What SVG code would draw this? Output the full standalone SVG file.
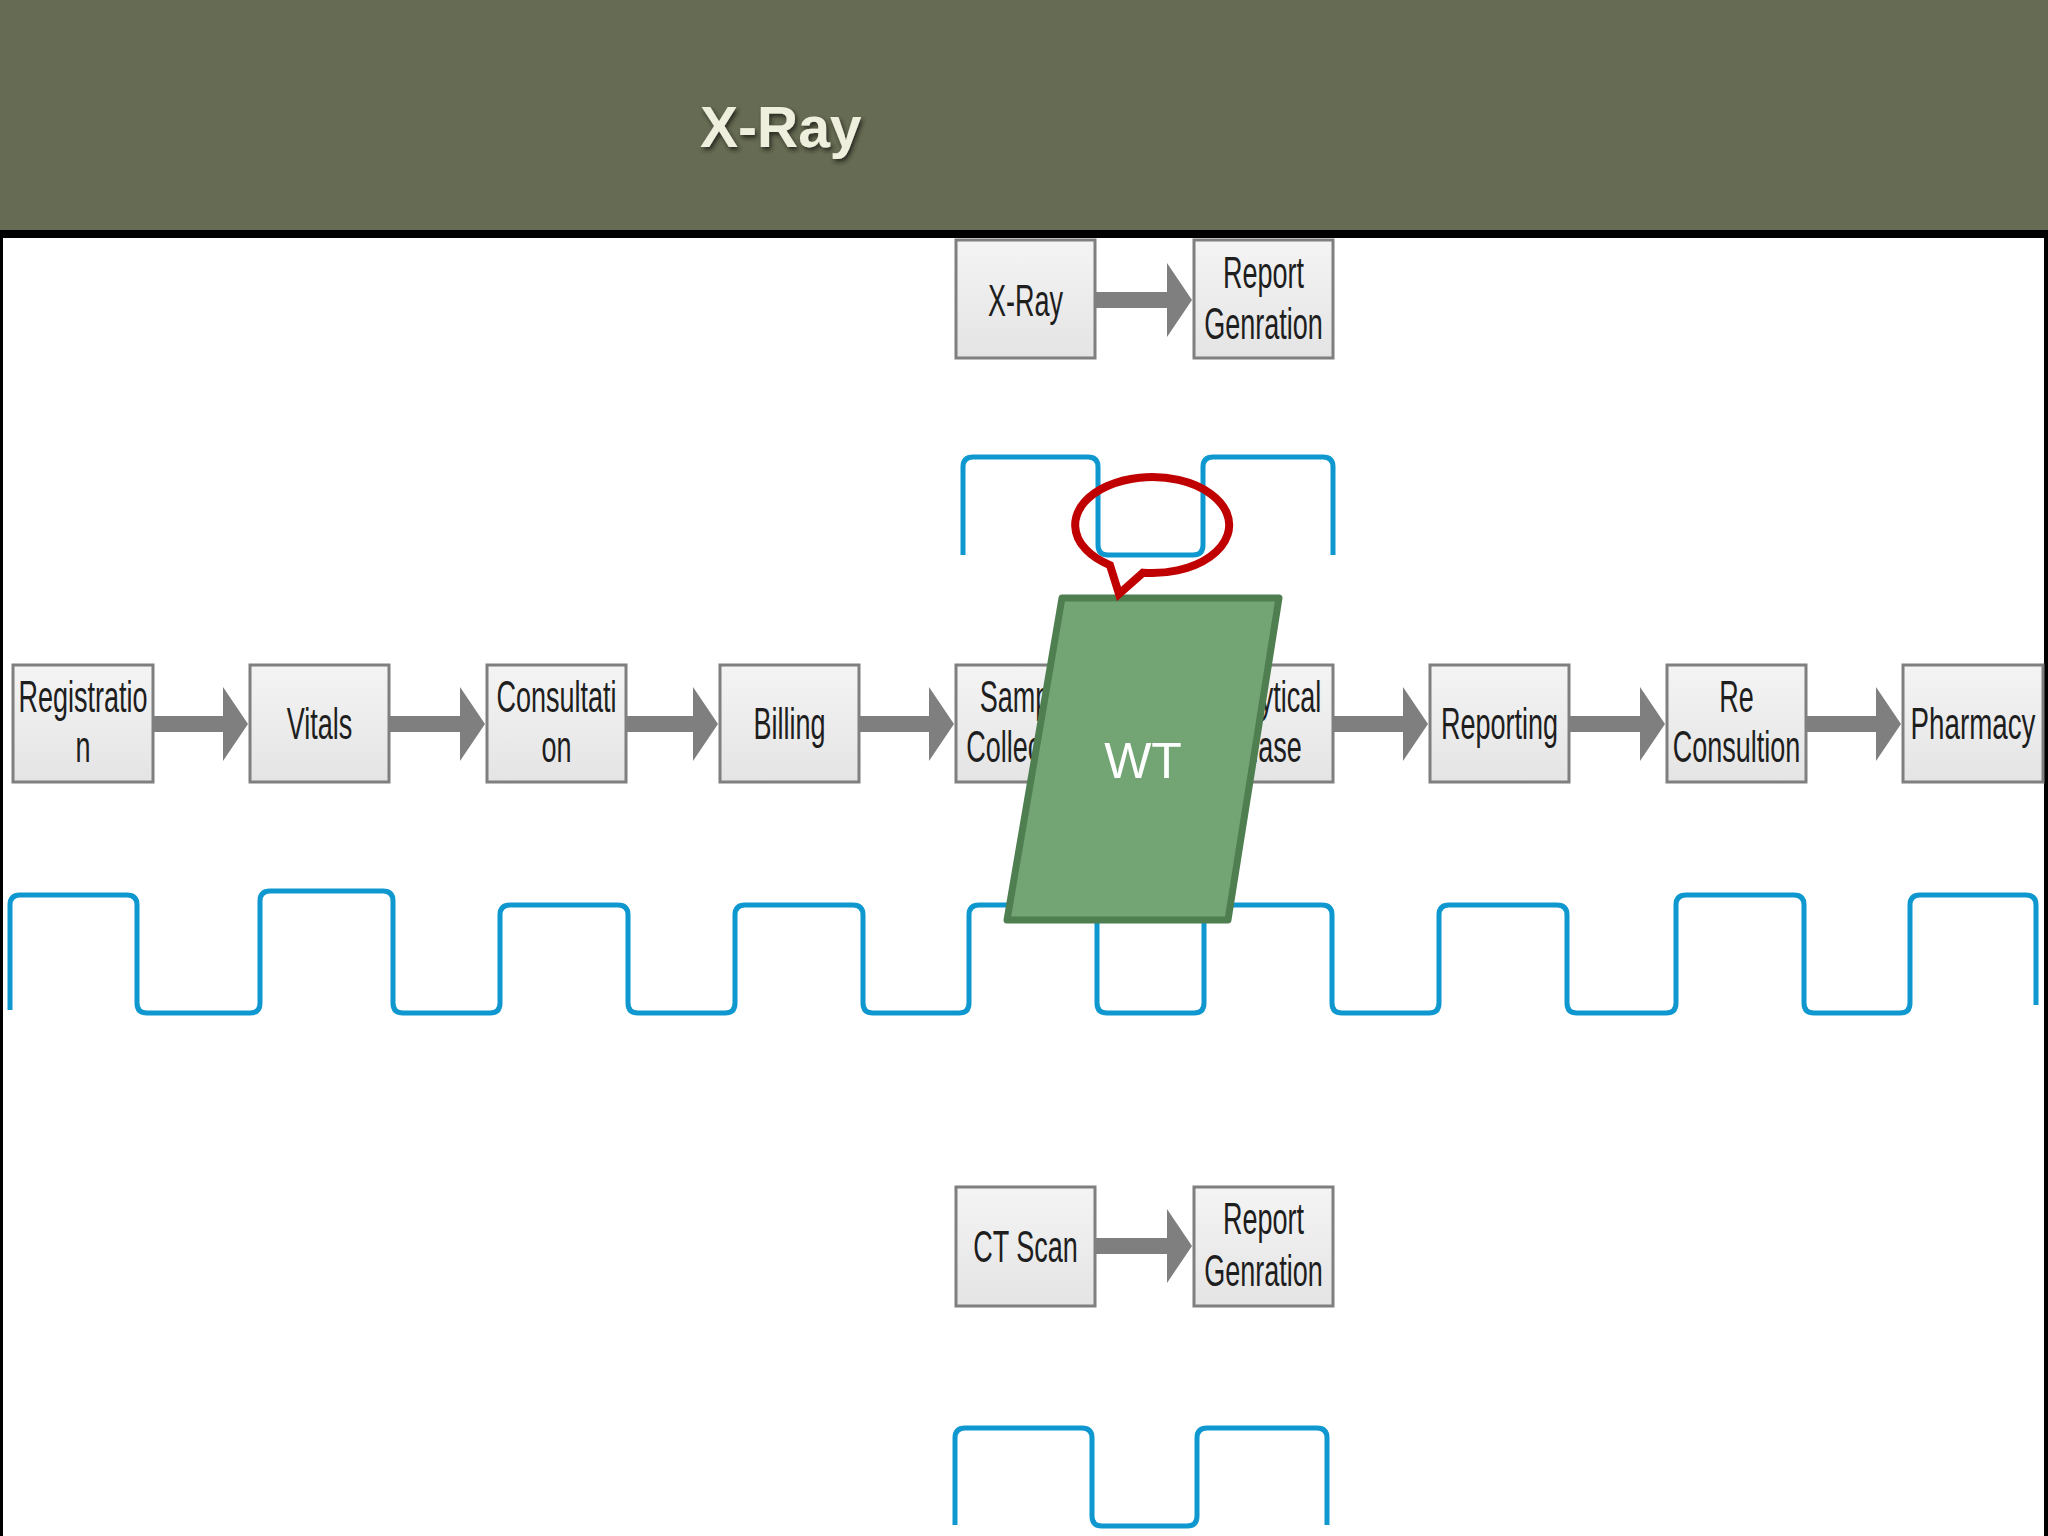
<svg xmlns="http://www.w3.org/2000/svg" width="2048" height="1536" viewBox="0 0 2048 1536">
  <defs>
    <linearGradient id="boxg" x1="0" y1="0" x2="0" y2="1">
      <stop offset="0" stop-color="#F4F4F4"/>
      <stop offset="1" stop-color="#E4E4E4"/>
    </linearGradient>
    <filter id="sh" x="-20%" y="-20%" width="140%" height="160%">
      <feDropShadow dx="2" dy="3" stdDeviation="2" flood-color="#1c1e16" flood-opacity="0.85"/>
    </filter>
  </defs>
  <style>
    .box { fill: url(#boxg); stroke: #7F7F7F; stroke-width: 3; }
    .lbl { font-family: "Liberation Sans", Arial, sans-serif; font-size: 44px; fill: #1E1E1E; text-anchor: middle; }
    .arrow { fill: #7F7F7F; }
    .wave { fill: none; stroke: #0F98CF; stroke-width: 5; }
    .title { font-family: "Liberation Sans", Arial, sans-serif; font-weight: bold; font-size: 57px; fill: #EEEFDD; }
  </style>

  <!-- background / frame -->
  <rect x="0" y="0" width="2048" height="1536" fill="#000000"/>
  <rect x="3" y="238" width="2041" height="1298" fill="#FFFFFF"/>
  <rect x="0" y="0" width="2048" height="230" fill="#666B53"/>
  <text class="title" x="700" y="147" filter="url(#sh)">X-Ray</text>

  <!-- nodes: top row -->
  <g id="node-xray">
    <rect class="box" x="956" y="240" width="139" height="118"/>
    <text class="lbl" transform="matrix(0.614 0 0 1 1025.5 316)">X-Ray</text>
  </g>
  <g id="node-report-top">
    <rect class="box" x="1194" y="240" width="139" height="118"/>
    <text class="lbl" transform="matrix(0.614 0 0 1 1263.5 288)">Report</text>
    <text class="lbl" transform="matrix(0.614 0 0 1 1263.5 339)">Genration</text>
  </g>

  <!-- nodes: main row -->
  <g id="node-registration">
    <rect class="box" x="13" y="665" width="140" height="117"/>
    <text class="lbl" transform="matrix(0.614 0 0 1 83 712)">Registratio</text>
    <text class="lbl" transform="matrix(0.614 0 0 1 83 762)">n</text>
  </g>
  <g id="node-vitals">
    <rect class="box" x="250" y="665" width="139" height="117"/>
    <text class="lbl" transform="matrix(0.614 0 0 1 319.5 739)">Vitals</text>
  </g>
  <g id="node-consultation">
    <rect class="box" x="487" y="665" width="139" height="117"/>
    <text class="lbl" transform="matrix(0.614 0 0 1 556.5 712)">Consultati</text>
    <text class="lbl" transform="matrix(0.614 0 0 1 556.5 762)">on</text>
  </g>
  <g id="node-billing">
    <rect class="box" x="720" y="665" width="139" height="117"/>
    <text class="lbl" transform="matrix(0.614 0 0 1 789.5 739)">Billing</text>
  </g>
  <g id="node-sample">
    <rect class="box" x="956" y="665" width="139" height="117"/>
    <text class="lbl" transform="matrix(0.614 0 0 1 1025.5 712)">Sample</text>
    <text class="lbl" transform="matrix(0.614 0 0 1 1025.5 762)">Collection</text>
  </g>
  <g id="node-analytical">
    <rect class="box" x="1194" y="665" width="139" height="117"/>
    <text class="lbl" transform="matrix(0.614 0 0 1 1263.5 712)">Analytical</text>
    <text class="lbl" transform="matrix(0.614 0 0 1 1263.5 762)">Phase</text>
  </g>
  <g id="node-reporting">
    <rect class="box" x="1430" y="665" width="139" height="117"/>
    <text class="lbl" transform="matrix(0.614 0 0 1 1499.5 739)">Reporting</text>
  </g>
  <g id="node-reconsultion">
    <rect class="box" x="1667" y="665" width="139" height="117"/>
    <text class="lbl" transform="matrix(0.614 0 0 1 1736.5 712)">Re</text>
    <text class="lbl" transform="matrix(0.614 0 0 1 1736.5 762)">Consultion</text>
  </g>
  <g id="node-pharmacy">
    <rect class="box" x="1903" y="665" width="140" height="117"/>
    <text class="lbl" transform="matrix(0.63 0 0 1 1973 739)">Pharmacy</text>
  </g>

  <!-- nodes: bottom row -->
  <g id="node-ctscan">
    <rect class="box" x="956" y="1187" width="139" height="119"/>
    <text class="lbl" transform="matrix(0.614 0 0 1 1025.5 1262)">CT Scan</text>
  </g>
  <g id="node-report-bottom">
    <rect class="box" x="1194" y="1187" width="139" height="119"/>
    <text class="lbl" transform="matrix(0.614 0 0 1 1263.5 1234)">Report</text>
    <text class="lbl" transform="matrix(0.614 0 0 1 1263.5 1286)">Genration</text>
  </g>

  <!-- connectors -->
  <g id="connectors">
    <path class="arrow" d="M1095,292 H1167 V263 L1192,300 L1167,337 V308 H1095 Z"/>
    <path class="arrow" d="M153,716 H223 V687 L248,724 L223,761 V732 H153 Z"/>
    <path class="arrow" d="M389,716 H460 V687 L485,724 L460,761 V732 H389 Z"/>
    <path class="arrow" d="M626,716 H693 V687 L718,724 L693,761 V732 H626 Z"/>
    <path class="arrow" d="M859,716 H929 V687 L954,724 L929,761 V732 H859 Z"/>
    <path class="arrow" d="M1095,716 H1167 V687 L1192,724 L1167,761 V732 H1095 Z"/>
    <path class="arrow" d="M1333,716 H1403 V687 L1428,724 L1403,761 V732 H1333 Z"/>
    <path class="arrow" d="M1569,716 H1640 V687 L1665,724 L1640,761 V732 H1569 Z"/>
    <path class="arrow" d="M1806,716 H1876 V687 L1901,724 L1876,761 V732 H1806 Z"/>
    <path class="arrow" d="M1095,1238 H1167 V1209 L1192,1246 L1167,1283 V1254 H1095 Z"/>
  </g>

  <!-- timing waves -->
  <g id="waves">
    <path class="wave" d="M963,555 V467 Q963,457 973,457 H1088 Q1098,457 1098,467 V545 Q1098,555 1108,555 H1193 Q1203,555 1203,545 V467 Q1203,457 1213,457 H1323 Q1333,457 1333,467 V555"/>
    <path class="wave" d="M10,1010 V905 Q10,895 20,895 H127 Q137,895 137,905 V1003 Q137,1013 147,1013 H250 Q260,1013 260,1003 V901 Q260,891 270,891 H383 Q393,891 393,901 V1003 Q393,1013 403,1013 H490 Q500,1013 500,1003 V915 Q500,905 510,905 H618 Q628,905 628,915 V1003 Q628,1013 638,1013 H725 Q735,1013 735,1003 V915 Q735,905 745,905 H853 Q863,905 863,915 V1003 Q863,1013 873,1013 H959 Q969,1013 969,1003 V915 Q969,905 979,905 H1087 Q1097,905 1097,915 V1003 Q1097,1013 1107,1013 H1194 Q1204,1013 1204,1003 V915 Q1204,905 1214,905 H1322 Q1332,905 1332,915 V1003 Q1332,1013 1342,1013 H1429 Q1439,1013 1439,1003 V915 Q1439,905 1449,905 H1557 Q1567,905 1567,915 V1003 Q1567,1013 1577,1013 H1666 Q1676,1013 1676,1003 V905 Q1676,895 1686,895 H1794 Q1804,895 1804,905 V1003 Q1804,1013 1814,1013 H1900 Q1910,1013 1910,1003 V905 Q1910,895 1920,895 H2026 Q2036,895 2036,905 V1005"/>
    <path class="wave" d="M955,1525 V1438 Q955,1428 965,1428 H1082 Q1092,1428 1092,1438 V1516 Q1092,1526 1102,1526 H1187 Q1197,1526 1197,1516 V1438 Q1197,1428 1207,1428 H1317 Q1327,1428 1327,1438 V1525"/>
  </g>

  <!-- WT parallelogram -->
  <g id="node-wt">
    <polygon points="1062,598 1279,598 1228,920 1007,920" fill="#72A474" stroke="#4F7F51" stroke-width="7" stroke-linejoin="round"/>
    <text x="1143" y="778" font-family="'Liberation Sans', Arial, sans-serif" font-size="50" fill="#FFFFFF" text-anchor="middle">WT</text>
  </g>

  <!-- speech bubble -->
  <g id="callout">
    <path d="M1143,572.7 A77 48 0 1 0 1110,565.2 L1119,594 Z" fill="none" stroke="#C00000" stroke-width="8" stroke-linejoin="miter"/>
  </g>
</svg>
